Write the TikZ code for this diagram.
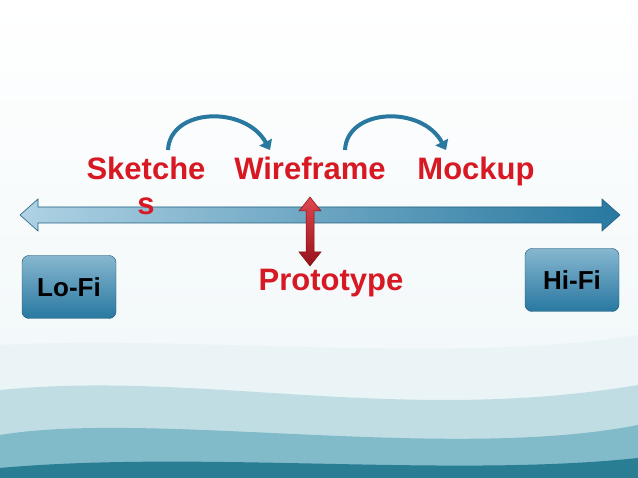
\documentclass[tikz,border=0pt]{standalone}
\usepackage{fontspec}
\setmainfont{Liberation Sans}
\usetikzlibrary{arrows.meta,shapes.arrows}
\definecolor{tred}{RGB}{215,25,35}
\definecolor{tblue}{RGB}{40,120,160}
\definecolor{lblue}{RGB}{175,210,228}
\definecolor{teal}{RGB}{45,140,165}
\tikzset{
  lbl/.style={font=\bfseries\fontsize{31}{34}\selectfont, text=tred, anchor=base, inner sep=0pt},
  fibox/.style={draw=tblue!70!black, rounded corners=7pt, top color=lblue!70!tblue, bottom color=tblue, minimum width=94pt, minimum height=63pt, font=\bfseries\fontsize{26}{30}\selectfont, text=black},
  arc/.style={line width=4pt, draw=tblue, -{Triangle[length=9pt,width=14pt]}},
}
\begin{document}
\begin{tikzpicture}[x=1pt,y=-1pt]
\useasboundingbox (0,0) rectangle (638,478);
% background
\shade[top color=white, bottom color=white!94!teal] (0,0) rectangle (638,360);
\fill[white!90!teal] (0,345) .. controls (200,335) and (450,365) .. (638,335) -- (638,478) -- (0,478) -- cycle;
\fill[white!70!teal] (0,390) .. controls (200,370) and (400,425) .. (638,385) -- (638,478) -- (0,478) -- cycle;
\fill[white!40!teal] (0,435) .. controls (150,410) and (450,462) .. (638,425) -- (638,478) -- (0,478) -- cycle;
\fill[teal!90!black] (0,468) .. controls (200,450) and (450,478) .. (638,458) -- (638,478) -- (0,478) -- cycle;
% main axis
\shade[left color=lblue, right color=tblue, draw=tblue!80!black, line width=0.6pt]
  (20,215) -- (38,199) -- (38,207) -- (602,207) -- (602,199) -- (620,215) -- (602,231) -- (602,223) -- (38,223) -- (38,231) -- cycle;
% labels
\node[lbl] (sk) at (146,180) {Sketche};
\node[lbl] (sks) at (146,215) {s};
\node[lbl] (wf) at (310,180) {Wireframe};
\node[lbl] (mk) at (476,180) {Mockup};
\node[lbl] (pt) at (331,291) {Prototype};
% red vertical arrow
\shade[top color=tred!80, bottom color=tred!70!black, draw=tred!60!black, line width=0.5pt]
  (310,197) -- (321,211) -- (314,211) -- (314,252) -- (321,252) -- (310,266) -- (299,252) -- (306,252) -- (306,211) -- (299,211) -- cycle;
% curved arrows
\coordinate (a1) at (168,150);
\coordinate (b1) at (270,150);
\coordinate (a2) at (345,150);
\coordinate (b2) at (446,150);
\draw[arc] (a1) .. controls (170,108) and (245,105) .. (b1);
\draw[arc] (a2) .. controls (347,108) and (422,105) .. (b2);
% boxes
\node[fibox] (lo) at (69,287) {Lo-Fi};
\node[fibox] (hi) at (572,280) {Hi-Fi};
\end{tikzpicture}
\end{document}
